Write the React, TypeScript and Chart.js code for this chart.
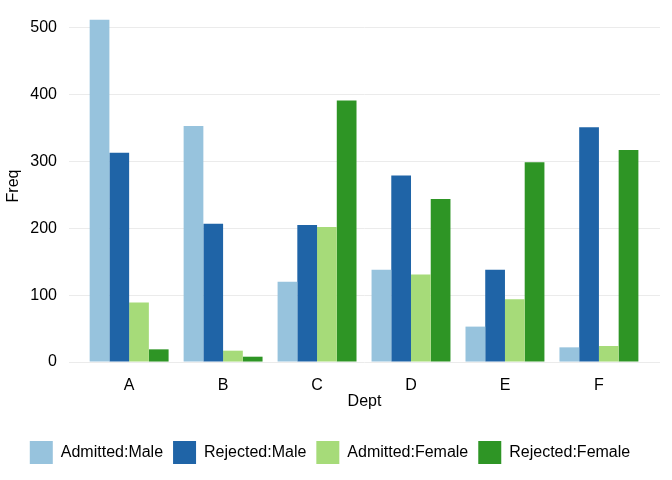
import { Chart, registerables } from 'chart.js';
import { useEffect, useRef } from 'react';

Chart.register(...registerables);

// UCB admissions, counts per department
const DEPTS = ['A', 'B', 'C', 'D', 'E', 'F'];
const admittedMale = [512, 353, 120, 138, 53, 22];
const rejectedMale = [313, 207, 205, 279, 138, 351];
const admittedFemale = [89, 17, 202, 131, 94, 24];
const rejectedFemale = [19, 8, 391, 244, 299, 317];
const Y_TICKS = [0, 100, 200, 300, 400, 500];

const SERIES = [
  { label: 'Admitted:Male', values: admittedMale, color: '#97c3dd' },
  { label: 'Rejected:Male', values: rejectedMale, color: '#1f64a7' },
  { label: 'Admitted:Female', values: admittedFemale, color: '#a6db79' },
  { label: 'Rejected:Female', values: rejectedFemale, color: '#2e9525' },
];

const FONT = '"Liberation Sans", Arial, Helvetica, sans-serif';

const App = () => {
  const canvasRef = useRef<HTMLCanvasElement | null>(null);

  useEffect(() => {
    if (!canvasRef.current) return;

    const chart = new Chart(canvasRef.current, {
      type: 'bar',
      data: {
        datasets: SERIES.map((s) => ({
          label: s.label,
          data: DEPTS.map((_, i) => ({ x: i, y: s.values[i] })),
          backgroundColor: s.color,
          borderWidth: 0,
          barPercentage: 1,
          categoryPercentage: 0.84,
        })),
      },
      options: {
        animation: false,
        responsive: true,
        maintainAspectRatio: false,
        layout: { padding: { left: 0, top: 3, right: 12, bottom: 6 } },
        plugins: {
          tooltip: { enabled: false },
          legend: {
            position: 'bottom',
            labels: {
              boxWidth: 23,
              boxHeight: 23,
              padding: 10,
              color: '#000',
              font: { family: FONT, size: 16 },
            },
          },
        },
        scales: {
          x: {
            type: 'linear',
            offset: false,
            min: -0.64,
            max: 5.65,
            afterFit: (scale: any) => {
              scale.height = 62;
              scale.paddingLeft = 0;
              scale.paddingRight = 0;
            },
            afterBuildTicks: (scale) => {
              scale.ticks = DEPTS.map((_, i) => ({ value: i }));
            },
            grid: { display: false, drawTicks: false },
            border: { display: false },
            ticks: {
              padding: 7,
              autoSkip: false,
              color: '#000',
              font: { family: FONT, size: 16 },
              callback: (value) => DEPTS[Number(value)] ?? '',
            },
            title: {
              display: true,
              text: 'Dept',
              color: '#000',
              font: { family: FONT, size: 16 },
              padding: { top: 0, bottom: 20 },
            },
          },
          y: {
            min: -10.4,
            max: 537,
            afterFit: (scale: any) => {
              scale.width = 69;
              scale.paddingTop = 0;
              scale.paddingBottom = 0;
            },
            afterBuildTicks: (scale) => {
              scale.ticks = Y_TICKS.map((v) => ({ value: v }));
            },
            grid: { color: '#ebebeb', lineWidth: 1, drawTicks: false },
            border: { display: false },
            ticks: {
              padding: 12,
              color: '#000',
              font: { family: FONT, size: 16 },
            },
            title: {
              display: true,
              text: 'Freq',
              color: '#000',
              font: { family: FONT, size: 16 },
              padding: { top: 4, bottom: 0 },
            },
          },
        },
      },
    });

    return () => {
      chart.destroy();
    };
  }, []);

  return (
    <div
      style={{
        position: 'fixed',
        left: 0,
        top: 0,
        width: 672,
        height: 480,
        background: '#fff',
      }}
    >
      <canvas ref={canvasRef}></canvas>
    </div>
  );
};

export default App;
